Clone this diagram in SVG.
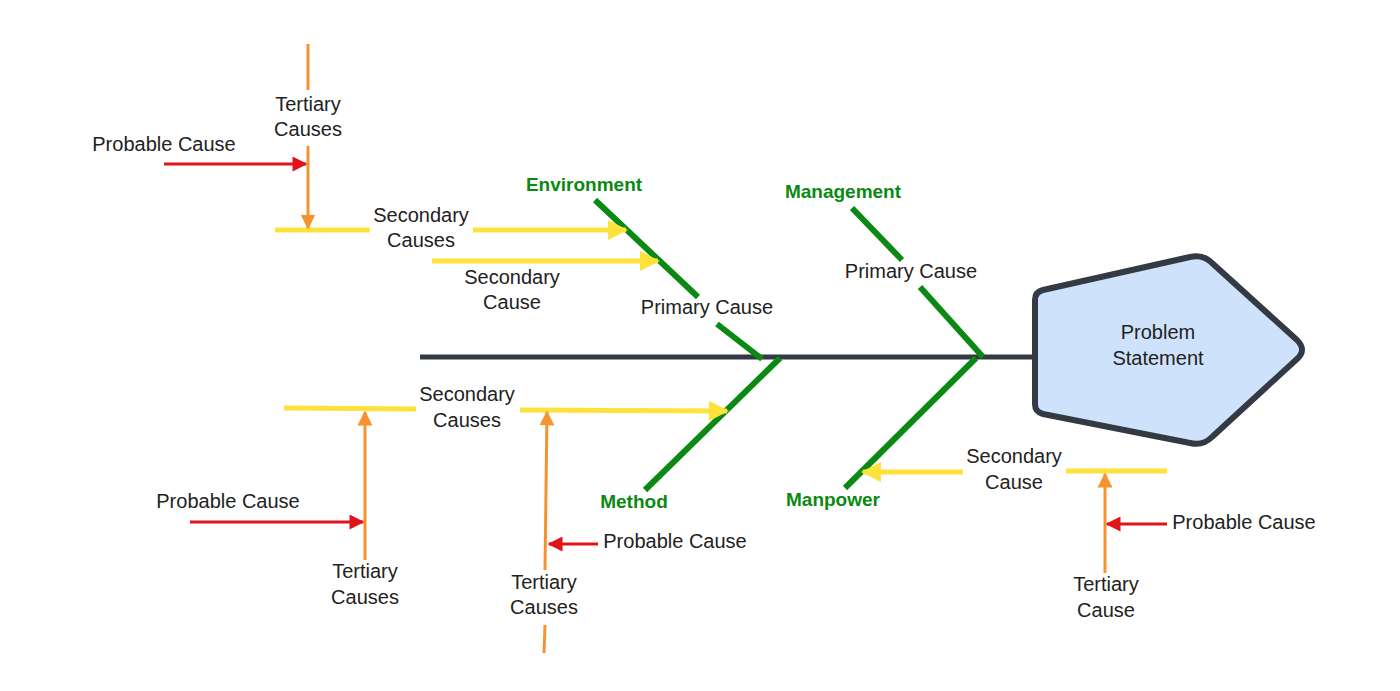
<svg xmlns="http://www.w3.org/2000/svg" width="1400" height="691" viewBox="0 0 1400 691">
<defs>
<style>
text{font-family:"Liberation Sans",Arial,sans-serif;font-size:20px;fill:#222;text-anchor:middle}
.g{fill:#0a8a12;font-weight:bold;font-size:19px}
.gl{stroke:#0a8a12;stroke-width:6;fill:none}
.y{stroke:#fde23b;stroke-width:5;fill:none}
.o{stroke:#f7932f;stroke-width:3;fill:none}
.r{stroke:#e0141a;stroke-width:3;fill:none}
</style>
<marker id="ay" viewBox="0 0 10 10" refX="9" refY="5" markerWidth="6" markerHeight="4" orient="auto" markerUnits="strokeWidth"><path d="M0,0L10,5L0,10z" fill="#fde23b"/></marker>
<marker id="ao" viewBox="0 0 10 10" refX="9" refY="5" markerWidth="5" markerHeight="6" orient="auto" markerUnits="strokeWidth"><path d="M0,0L10,5L0,10z" fill="#f7932f"/></marker>
<marker id="ar" viewBox="0 0 10 10" refX="9" refY="5" markerWidth="8" markerHeight="5" orient="auto" markerUnits="strokeWidth"><path d="M0,0L10,5L0,10z" fill="#e0141a"/></marker>
</defs>
<rect width="1400" height="691" fill="#fff"/>
<g id="connectors">
<line x1="420" y1="357" x2="1036" y2="357" stroke="#333a44" stroke-width="5"/>
<line class="gl" x1="595" y1="200" x2="698" y2="297"/>
<line class="gl" x1="717" y1="324" x2="762" y2="359"/>
<line class="gl" x1="780" y1="358" x2="645" y2="490"/>
<line class="gl" x1="852" y1="208" x2="902" y2="260"/>
<line class="gl" x1="920" y1="287" x2="983" y2="357"/>
<line class="gl" x1="976" y1="358" x2="845" y2="488"/>
<line class="y" x1="275" y1="230" x2="370" y2="230"/>
<line class="y" x1="473" y1="230" x2="626" y2="230" marker-end="url(#ay)"/>
<line class="y" x1="432" y1="261" x2="658" y2="261" marker-end="url(#ay)"/>
<line class="y" x1="284" y1="408" x2="416" y2="409"/>
<line class="y" x1="520" y1="410" x2="727" y2="411" marker-end="url(#ay)"/>
<line class="y" x1="963" y1="472" x2="863" y2="472" marker-end="url(#ay)"/>
<line class="y" x1="1066" y1="471" x2="1167" y2="471"/>
<line class="o" x1="308" y1="44" x2="308" y2="90"/>
<line class="o" x1="308" y1="146" x2="308" y2="228" marker-end="url(#ao)"/>
<line class="o" x1="365" y1="560" x2="365" y2="412" marker-end="url(#ao)"/>
<line class="o" x1="545" y1="570" x2="547" y2="412" marker-end="url(#ao)"/>
<line class="o" x1="545" y1="625" x2="544" y2="653"/>
<line class="o" x1="1105" y1="573" x2="1105" y2="474" marker-end="url(#ao)"/>
<line class="r" x1="164" y1="164" x2="306" y2="164" marker-end="url(#ar)"/>
<line class="r" x1="190" y1="522" x2="363" y2="522" marker-end="url(#ar)"/>
<line class="r" x1="598" y1="544" x2="549" y2="544" marker-end="url(#ar)"/>
<line class="r" x1="1167" y1="524" x2="1107" y2="524" marker-end="url(#ar)"/>
</g>
<g id="problem">
<path d="M1035,300 Q1035,292 1043,290 L1190,257 Q1203,254 1212,263 L1297,340 Q1307,350 1297,359 L1212,437 Q1203,446 1190,443 L1043,414 Q1035,412 1035,404 Z" fill="#cfe2fb" stroke="#333a44" stroke-width="6" stroke-linejoin="round"/>
<text x="1158" y="339">Problem</text>
<text x="1158" y="365">Statement</text>
</g>
<g id="labels">
<text class="g" x="584" y="191">Environment</text>
<text class="g" x="843" y="198">Management</text>
<text class="g" x="634" y="508">Method</text>
<text class="g" x="833" y="506">Manpower</text>
<text x="707" y="314">Primary Cause</text>
<text x="911" y="278">Primary Cause</text>
<text x="308" y="111">Tertiary</text>
<text x="308" y="136">Causes</text>
<text x="164" y="151">Probable Cause</text>
<text x="421" y="222">Secondary</text>
<text x="421" y="247">Causes</text>
<text x="512" y="284">Secondary</text>
<text x="512" y="309">Cause</text>
<text x="467" y="401">Secondary</text>
<text x="467" y="427">Causes</text>
<text x="228" y="508">Probable Cause</text>
<text x="365" y="578">Tertiary</text>
<text x="365" y="604">Causes</text>
<text x="675" y="548">Probable Cause</text>
<text x="544" y="589">Tertiary</text>
<text x="544" y="614">Causes</text>
<text x="1014" y="463">Secondary</text>
<text x="1014" y="489">Cause</text>
<text x="1244" y="529">Probable Cause</text>
<text x="1106" y="591">Tertiary</text>
<text x="1106" y="617">Cause</text>
</g>
</svg>
